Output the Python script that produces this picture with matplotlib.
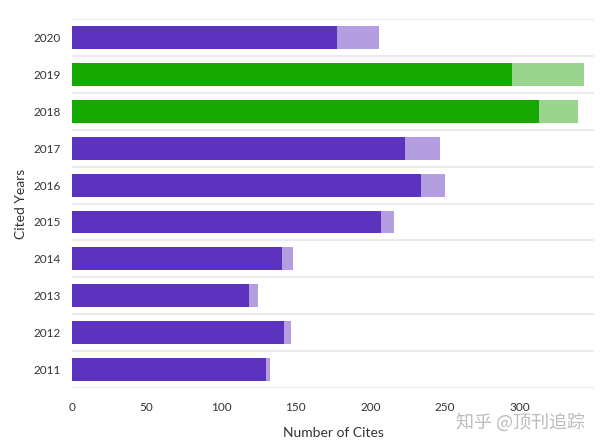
import matplotlib.pyplot as plt
import numpy as np

years = ['2011', '2012', '2013', '2014', '2015', '2016', '2017', '2018', '2019', '2020']
base = [130, 142, 119, 141, 207, 234, 223, 313, 295, 178]
total = [133, 147, 125, 148, 216, 250, 247, 339, 343, 206]
highlight = ['2018', '2019']

dark_purple = '#5B33BF'
light_purple = '#B49EE1'
dark_green = '#14A800'
light_green = '#9AD48F'
txt = '#333333'

extra = [t - b for t, b in zip(total, base)]
c1 = [dark_green if y in highlight else dark_purple for y in years]
c2 = [light_green if y in highlight else light_purple for y in years]

fig = plt.figure(figsize=(6, 4.42), dpi=100)
ax = fig.add_axes([0.12, 0.122, 0.87, 0.835])
pos = np.arange(len(years))

ax.barh(pos, base, height=0.62, color=c1)
ax.barh(pos, extra, left=base, height=0.62, color=c2)

ax.set_ylim(-0.5, len(years) - 0.5)
ax.set_xlim(0, 350)
for y in np.arange(-0.5, len(years), 1.0):
    ax.axhline(y, color='#e8e8e8', lw=1.2, zorder=0)

for s in ax.spines.values():
    s.set_visible(False)

ax.set_yticks(pos)
ax.set_yticklabels(years)
ax.set_xticks([0, 50, 100, 150, 200, 250, 300])
ax.tick_params(length=0, labelsize=8.5, colors=txt, pad=8)
ax.tick_params(axis='x', pad=10)
for lab in ax.get_xticklabels() + ax.get_yticklabels():
    lab.set_family('Lato')

ax.set_xlabel('Number of Cites', fontsize=10, color=txt, family='Lato', labelpad=10)
ax.set_ylabel('Cited Years', fontsize=10, color=txt, family='Lato', labelpad=5)

fig.text(0.975, 0.045, '知乎 @顶刊追踪', ha='right', va='center', fontsize=13,
         color='#b5b5b5', alpha=0.9, family=['Noto Sans CJK SC', 'DejaVu Sans'])

plt.savefig('out.png', dpi=100)
